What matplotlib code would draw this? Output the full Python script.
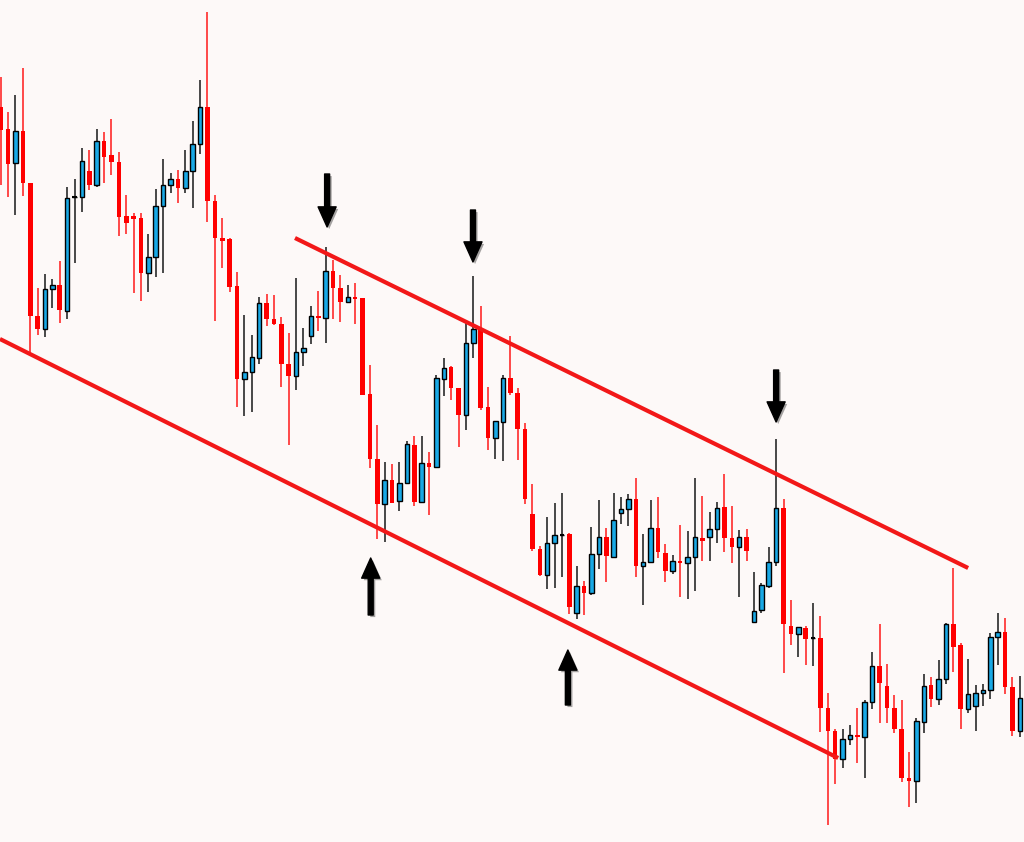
import matplotlib.pyplot as plt
import matplotlib.patheffects as pe
import numpy as np

# Kerzen (Open, High, Low, Close)
opens = [893, 871, 837, 869, 817, 684, 671, 711, 715, 689, 803, 803, 829, 815, 859, 845, 838, 784, 784, 782,
         727, 743, 794, 815, 821, 812, 829, 856, 893, 799, 762, 761, 714, 621, 628, 642, 697, 681, 676, 636,
         624, 648, 664, 684, 682, 729, 712, 698, 703, 702, 606, 541, 496, 520, 499, 517, 555, 498, 537, 533,
         621, 633, 612, 585, 657, 671, 593, 562, 578, 622, 607, 571, 486, 451, 425, 457, 465, 466, 387, 414,
         407, 446, 463, 443, 487, 491, 501, 434, 438, 472, 447, 429, 439, 437, 443, 462, 463, 471, 493, 462,
         453, 463, 378, 390, 414, 438, 492, 374, 366, 372, 362, 362, 292, 269, 241, 261, 265, 263, 298, 334,
         314, 292, 271, 222, 219, 278, 315, 301, 321, 376, 355, 291, 294, 307, 310, 363, 368, 313, 269]
highs = [923, 888, 905, 932, 817, 712, 726, 721, 739, 813, 821, 852, 850, 871, 868, 881, 848, 805, 787, 787,
         766, 811, 841, 827, 830, 850, 879, 920, 988, 805, 782, 762, 728, 685, 665, 703, 706, 705, 683, 667,
         722, 672, 694, 709, 753, 740, 725, 715, 717, 702, 635, 575, 538, 536, 538, 559, 564, 564, 548, 625,
         642, 634, 612, 678, 724, 694, 613, 579, 625, 664, 612, 577, 516, 454, 483, 497, 507, 467, 434, 419,
         473, 500, 472, 507, 503, 506, 522, 466, 500, 503, 456, 445, 475, 469, 522, 504, 488, 498, 526, 494,
         470, 471, 428, 417, 453, 561, 501, 400, 373, 374, 397, 384, 307, 271, 271, 275, 292, 300, 348, 376,
         336, 305, 300, 248, 282, 326, 323, 340, 377, 432, 357, 341, 315, 316, 367, 387, 382, 323, 324]
lows = [815, 803, 785, 804, 647, 665, 663, 692, 677, 681, 737, 788, 810, 813, 817, 825, 764, 766, 707, 699,
        708, 723, 727, 807, 797, 807, 792, 846, 778, 679, 732, 708, 593, 584, 588, 636, 674, 675, 613, 555,
        610, 634, 656, 669, 657, 681, 678, 697, 676, 605, 532, 461, 458, 497, 489, 517, 494, 497, 485, 532,
        604, 600, 553, 570, 642, 590, 550, 541, 539, 605, 540, 496, 449, 424, 411, 412, 423, 386, 381, 385,
        405, 431, 418, 442, 476, 474, 423, 395, 437, 442, 418, 426, 403, 401, 409, 439, 439, 457, 448, 437,
        403, 439, 378, 387, 412, 434, 327, 355, 343, 335, 334, 268, 175, 216, 232, 255, 237, 222, 291, 277,
        277, 267, 218, 193, 197, 267, 293, 295, 316, 328, 271, 287, 269, 294, 301, 335, 306, 264, 263]
closes = [870, 836, 869, 817, 684, 671, 711, 715, 690, 802, 803, 839, 815, 859, 843, 838, 783, 777, 781, 727,
          743, 794, 815, 821, 812, 829, 856, 893, 799, 762, 759, 713, 621, 628, 643, 697, 681, 676, 636, 624,
          648, 652, 684, 682, 729, 712, 698, 703, 701, 605, 541, 496, 520, 497, 517, 556, 498, 537, 533, 622,
          632, 612, 585, 657, 671, 592, 562, 579, 622, 607, 571, 501, 451, 425, 457, 465, 465, 393, 414, 407,
          446, 463, 444, 480, 491, 501, 434, 438, 472, 448, 429, 439, 437, 443, 463, 459, 471, 492, 462, 453,
          463, 449, 389, 415, 438, 492, 376, 366, 373, 361, 362, 292, 269, 241, 261, 265, 263, 298, 334, 317,
          292, 271, 222, 219, 279, 314, 301, 321, 376, 353, 291, 306, 307, 310, 363, 368, 313, 269, 302]

# Trendkanal (Start- und Endpunkt: Kerzenindex, Kurs)
upper_line = ([39.85, 131.0], [762, 432])
lower_line = ([-0.1, 113.4], [661, 242])

# Pfeile (Kerzenindex, Kurs Schaft, Kurs Spitze)
arrows_down = [(44.2, 826, 773), (63.95, 790, 738), (105.0, 630, 578)]
arrows_up = [(50.1, 385, 442), (76.8, 295, 350)]

bg = '#fdf9f8'
up_col = '#19a9e5'
down_col = '#ff0000'

fig = plt.figure(figsize=(10.24, 8.42), dpi=100, facecolor=bg)
ax = fig.add_axes([0, 0, 1, 1], facecolor=bg)

x = np.arange(len(opens))
o = np.array(opens)
h = np.array(highs)
l = np.array(lows)
c = np.array(closes)
up = c >= o

# Dochte
ax.vlines(x[up], l[up], h[up], color='#3a3a3a', lw=1.3, zorder=2)
ax.vlines(x[~up], l[~up], h[~up], color='#ff3b3b', lw=1.3, zorder=2)

# Kerzenkoerper
w = 0.62
ax.bar(x[up], c[up] - o[up], bottom=o[up], width=w, color=up_col,
       edgecolor='black', linewidth=1.0, zorder=3)
ax.bar(x[~up], o[~up] - c[~up], bottom=c[~up], width=w, color=down_col,
       linewidth=0, zorder=3)
doji = c == o
ax.hlines(o[doji], x[doji] - w / 2, x[doji] + w / 2, color='black', lw=1.5, zorder=4)

# Kanal-Linien
ax.plot(*upper_line, color='#f21818', lw=3, solid_capstyle='butt', zorder=5)
ax.plot(*lower_line, color='#f21818', lw=3, solid_capstyle='butt', zorder=5)

# Pfeile
shadow = [pe.SimplePatchShadow(offset=(1.5, -1.5), alpha=0.35), pe.Normal()]
for xi, y0, y1 in arrows_down + arrows_up:
    ax.annotate('', xy=(xi, y1), xytext=(xi, y0),
                arrowprops=dict(arrowstyle='simple,head_length=1.45,head_width=1.3,tail_width=0.36',
                                color='black', shrinkA=0, shrinkB=0,
                                path_effects=shadow),
                zorder=6)

ax.set_xlim(-0.095, 138.565)
ax.set_ylim(158, 1000)
ax.axis('off')

plt.savefig('out.png', dpi=100, facecolor=bg)
